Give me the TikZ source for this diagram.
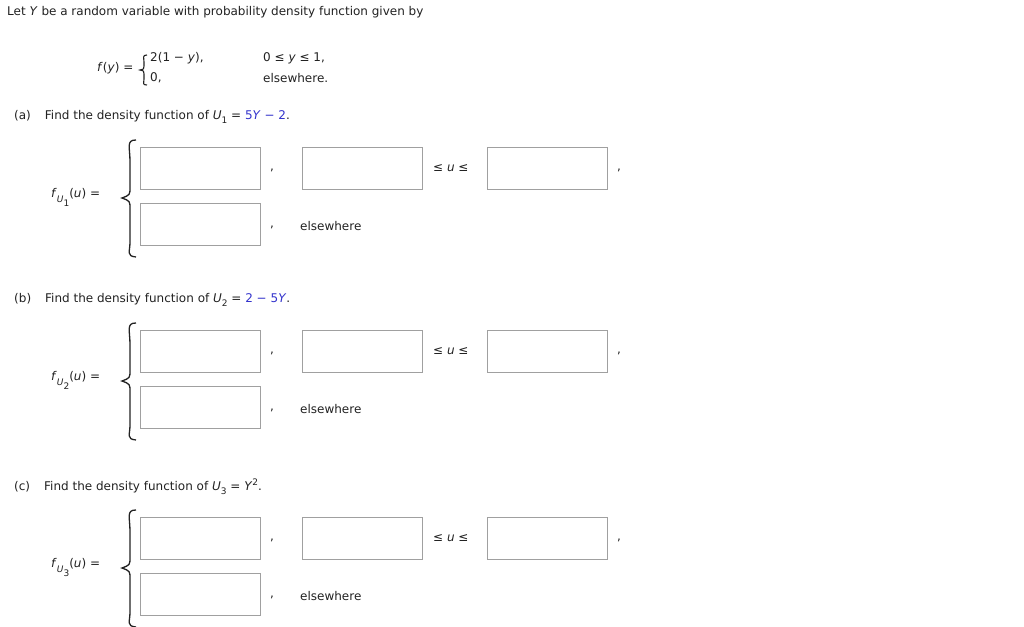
\documentclass[tikz,border=0pt]{standalone}
\usepackage{fontspec}
\setmainfont{DejaVu Sans}
\definecolor{ink}{HTML}{222222}
\definecolor{bl}{HTML}{3333CC}
\definecolor{bx}{HTML}{A0A0A0}
\tikzset{
 txt/.style={anchor=west,inner sep=0pt,text=ink,font=\fontsize{12}{14}\selectfont},
 ansbox/.style={draw=bx,line width=0.9pt,anchor=north west,minimum width=120pt,minimum height=42pt,inner sep=0pt},
 bigbrace/.style={draw=ink,line width=1.3pt}}
\begin{document}
\begin{tikzpicture}[x=1pt,y=-1pt]
\fill[white] (0,0) rectangle (1024,626);
\useasboundingbox (0,0) rectangle (1024,626);
\node[txt] (title) at (7,12) {Let \textit{Y} be a random variable with probability density function given by};
\node[txt] (fy) at (97,68) {\textit{f}(\textit{y}) =};
\draw[ink,line width=1.1pt] (147,55) .. controls (142,55) and (144,58) .. (144,62) -- (144,66) .. controls (144,69) .. (140,70) .. controls (144,71) .. (144,74) -- (144,79) .. controls (144,83) and (142,85) .. (147,85);
\node[txt] (r1) at (150,58) {2(1 − \textit{y}),};
\node[txt] (r2) at (150,78) {0,};
\node[txt] (cond1) at (263,58) {0 ≤ \textit{y} ≤ 1,};
\node[txt] (cond2) at (263,78) {elsewhere.};

\begin{scope}[yshift=-117pt]
 \node[txt] (ta) at (14,0) {(a)\hspace{14pt}Find the density function of \textit{U}\raisebox{-4pt}{\small 1} = \textcolor{bl}{5\textit{Y} − 2}.};
 \node[ansbox] (ab1) at (140,30) {};
 \node[ansbox] (ab2) at (302,30) {};
 \node[txt] (ale) at (433,51) {≤ \textit{u} ≤};
 \node[ansbox] (ab3) at (487,30) {};
 \node[txt] (ac1) at (270,53) {,};
 \node[txt] (ac2) at (617,53) {,};
 \node[ansbox] (ab4) at (140,86) {};
 \node[txt] (ac3) at (270,110) {,};
 \node[txt] (ael) at (300,109) {elsewhere};
 \node[txt] (af) at (51,80) {\textit{f}\raisebox{-5pt}{\small\textit{U}\raisebox{-4pt}{\small 1}}(\textit{u}) =};
 \draw[bigbrace] (136,23) .. controls (126,23) and (130,30) .. (130,45) -- (130,70) .. controls (130,78) .. (122,81) .. controls (130,84) .. (130,92) -- (130,125) .. controls (130,135) and (126,139) .. (136,140);
\end{scope}

\begin{scope}[yshift=-300pt]
 \node[txt] (tb) at (14,0) {(b)\hspace{14pt}Find the density function of \textit{U}\raisebox{-4pt}{\small 2} = \textcolor{bl}{2 − 5\textit{Y}}.};
 \node[ansbox] (bb1) at (140,30) {};
 \node[ansbox] (bb2) at (302,30) {};
 \node[txt] (ble) at (433,51) {≤ \textit{u} ≤};
 \node[ansbox] (bb3) at (487,30) {};
 \node[txt] (bc1) at (270,53) {,};
 \node[txt] (bc2) at (617,53) {,};
 \node[ansbox] (bb4) at (140,86) {};
 \node[txt] (bc3) at (270,110) {,};
 \node[txt] (bel) at (300,109) {elsewhere};
 \node[txt] (bf) at (51,80) {\textit{f}\raisebox{-5pt}{\small\textit{U}\raisebox{-4pt}{\small 2}}(\textit{u}) =};
 \draw[bigbrace] (136,23) .. controls (126,23) and (130,30) .. (130,45) -- (130,70) .. controls (130,78) .. (122,81) .. controls (130,84) .. (130,92) -- (130,125) .. controls (130,135) and (126,139) .. (136,140);
\end{scope}

\begin{scope}[yshift=-487pt]
 \node[txt] (tc) at (14,0) {(c)\hspace{14pt}Find the density function of \textit{U}\raisebox{-4pt}{\small 3} = \textit{Y}\raisebox{5pt}{\small 2}.};
 \node[ansbox] (cb1) at (140,30) {};
 \node[ansbox] (cb2) at (302,30) {};
 \node[txt] (cle) at (433,51) {≤ \textit{u} ≤};
 \node[ansbox] (cb3) at (487,30) {};
 \node[txt] (cc1) at (270,53) {,};
 \node[txt] (cc2) at (617,53) {,};
 \node[ansbox] (cb4) at (140,86) {};
 \node[txt] (cc3) at (270,110) {,};
 \node[txt] (cel) at (300,109) {elsewhere};
 \node[txt] (cf) at (51,80) {\textit{f}\raisebox{-5pt}{\small\textit{U}\raisebox{-4pt}{\small 3}}(\textit{u}) =};
 \draw[bigbrace] (136,23) .. controls (126,23) and (130,30) .. (130,45) -- (130,70) .. controls (130,78) .. (122,81) .. controls (130,84) .. (130,92) -- (130,125) .. controls (130,135) and (126,139) .. (136,140);
\end{scope}
\end{tikzpicture}
\end{document}
